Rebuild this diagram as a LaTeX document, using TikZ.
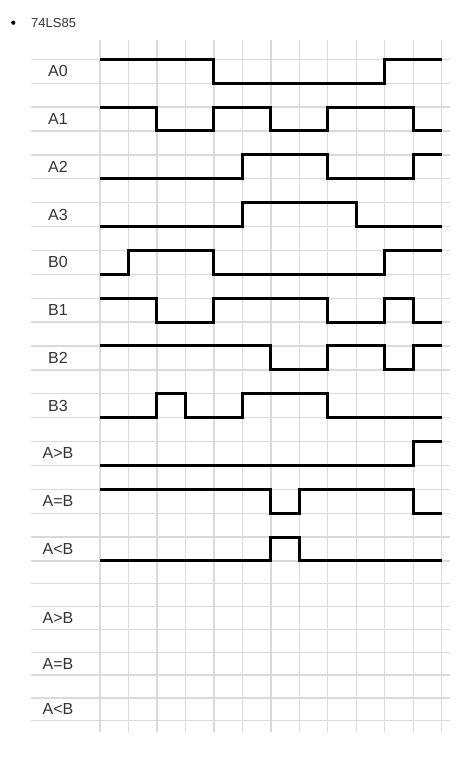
\documentclass[tikz,border=0pt]{standalone}
\usepackage{fontspec}
\setmainfont{Liberation Sans}
\definecolor{gridgray}{HTML}{DADADA}
\definecolor{txtgray}{HTML}{333333}
\begin{document}
\begin{tikzpicture}[x=1pt,y=-1pt,
  gridline/.style={draw=gridgray, line width=1.3pt},
  wave/.style={draw=black, line width=3pt, line join=miter},
  lbl/.style={text=txtgray, font=\fontsize{16}{19}\selectfont, inner sep=0pt, anchor=center}]
\useasboundingbox (0,0) rectangle (474,760);
% horizontal grid lines
\foreach \k in {0,...,21} {
  \draw[gridline] (31,{59.3+23.89*\k}) -- (450,{59.3+23.89*\k});
}
\foreach \k in {1,...,7} {
  \draw[gridline] (31,{561+22.81*\k}) -- (450,{561+22.81*\k});
}
% vertical grid lines
\foreach \i in {0,...,12} {
  \draw[gridline] ({100+28.475*\i},40) -- ({100+28.475*\i},731.5);
}
% title
\node[text=txtgray, font=\fontsize{13}{15}\selectfont, inner sep=0pt, anchor=west] (title) at (31,22.7) {74LS85};
\fill[black] (13.3,22.7) circle (2.1) coordinate (bullet);
% labels
\foreach \nm/\txt [count=\r from 0] in {la0/A0,la1/A1,la2/A2,la3/A3,lb0/B0,lb1/B1,lb2/B2,lb3/B3,lgt/A>B,leq/A=B,llt/A<B} {
  \node[lbl] (\nm) at (58,{59.3+23.89*(2*\r+0.5)}) {\txt};
}
\node[lbl] (lgt2) at (58,{561+22.81*2.5}) {A>B};
\node[lbl] (leq2) at (58,{561+22.81*4.5}) {A=B};
\node[lbl] (llt2) at (58,{561+22.81*6.5}) {A<B};
% waveforms
\begin{scope}[shift={(100,59.3)}, x=28.475pt, y=-23.89pt]
  \draw[wave] (0,0) -| (4,1) -| (10,0) -- (12,0);
  \draw[wave] (0,2) -| (2,3) -| (4,2) -| (6,3) -| (8,2) -| (11,3) -- (12,3);
  \draw[wave] (0,5) -| (5,4) -| (8,5) -| (11,4) -- (12,4);
  \draw[wave] (0,7) -| (5,6) -| (9,7) -- (12,7);
  \draw[wave] (0,9) -| (1,8) -| (4,9) -| (10,8) -- (12,8);
  \draw[wave] (0,10) -| (2,11) -| (4,10) -| (8,11) -| (10,10) -| (11,11) -- (12,11);
  \draw[wave] (0,12) -| (6,13) -| (8,12) -| (10,13) -| (11,12) -- (12,12);
  \draw[wave] (0,15) -| (2,14) -| (3,15) -| (5,14) -| (8,15) -- (12,15);
  \draw[wave] (0,17) -| (11,16) -- (12,16);
  \draw[wave] (0,18) -| (6,19) -| (7,18) -| (11,19) -- (12,19);
  \draw[wave] (0,21) -| (6,20) -| (7,21) -- (12,21);
\end{scope}
\end{tikzpicture}
\end{document}
